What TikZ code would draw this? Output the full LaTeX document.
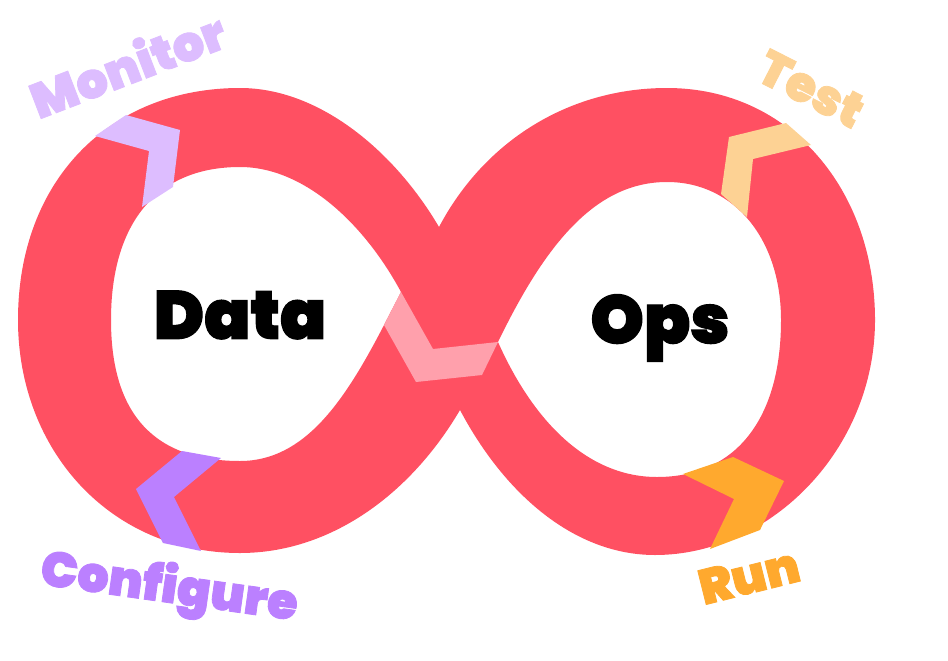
\documentclass[tikz,border=0pt]{standalone}
\usepackage{fontspec}
\newfontfamily\labelfont[FakeBold=1.6]{Poppins Black}
\definecolor{loopred}{HTML}{FF5062}
\definecolor{monitorcol}{HTML}{DDBDFF}
\definecolor{testcol}{HTML}{FDD294}
\definecolor{runcol}{HTML}{FFA92E}
\definecolor{configcol}{HTML}{BB80FF}
\definecolor{paleline}{HTML}{FFA0AC}
\tikzset{
	stagelabel/.style={font=\labelfont\fontsize{37}{37}\selectfont, inner sep=0pt},
	bigword/.style={font=\labelfont\fontsize{51}{51}\selectfont, inner sep=0pt, text=black},
}

\begin{document}
\begin{tikzpicture}[x=0.75pt, y=-0.75pt]
	\useasboundingbox (0, 0) rectangle (948, 660);
	
	% the loop, with its two holes
	\fill[loopred, even odd rule] (439, 227)
		.. controls (395, 152) and (320, 88) .. (240, 88)
		.. controls (110, 88) and (18, 180) .. (18, 320)
		.. controls (18, 450) and (110, 553) .. (240, 553)
		.. controls (330, 553) and (410, 495) .. (460, 410)
		.. controls (505, 495) and (575, 555) .. (655, 555)
		.. controls (770, 555) and (875, 450) .. (875, 320)
		.. controls (875, 190) and (790, 88) .. (667, 88)
		.. controls (570, 88) and (485, 140) .. (439, 227) -- cycle
		(401, 292)
		.. controls (365, 225) and (305, 167) .. (240, 167)
		.. controls (155, 167) and (111, 225) .. (111, 320)
		.. controls (111, 415) and (155, 461) .. (240, 461)
		.. controls (305, 461) and (345, 400) .. (383, 327) -- cycle
		(498, 342)
		.. controls (545, 245) and (595, 182) .. (667, 182)
		.. controls (735, 182) and (781, 240) .. (781, 320)
		.. controls (781, 420) and (735, 477) .. (657, 477)
		.. controls (590, 477) and (535, 425) .. (498, 342) -- cycle;
	
	% chevrons
	\fill[monitorcol] (95, 136) -- (126, 115) -- (180, 130) -- (173, 187) -- (142, 207) -- (149, 151) -- cycle;
	\fill[paleline] (401, 292) -- (433, 349) -- (498, 342) -- (482, 375) -- (416, 382) -- (384, 325) -- cycle;
	\fill[runcol] (683, 474) -- (733, 457) -- (784, 481) -- (760, 530) -- (710, 549) -- (734, 499) -- cycle;
	\fill[configcol] (182, 451) -- (221, 458) -- (174, 497) -- (201, 551) -- (163, 543) -- (136, 489) -- cycle;
	\fill[testcol] (786, 123) -- (811, 145) -- (753, 159) -- (747, 217) -- (721, 194) -- (729, 137) -- cycle;
	
	\node[bigword] (data) at (240, 315) {Data};
	\node[bigword] (ops) at (660, 328) {Ops};
	
	\node[stagelabel, text=monitorcol, rotate=21] (monitor) at (127, 64) {Monitor};
	\node[stagelabel, text=testcol, rotate=-27] (test) at (811, 89) {Test};
	\node[stagelabel, text=configcol, rotate=-8] (configure) at (169, 589) {Configure};
	\node[stagelabel, text=runcol, rotate=14] (run) at (749, 576) {Run};
\end{tikzpicture}
\end{document}
